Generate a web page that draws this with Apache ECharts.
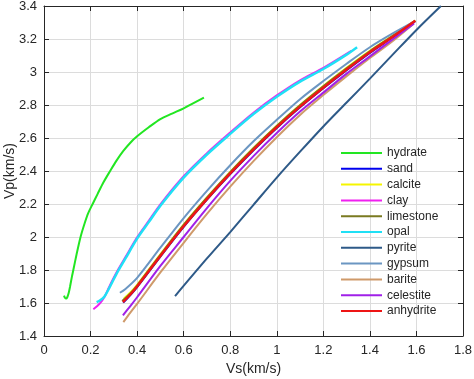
<!DOCTYPE html>
<html>
<head>
<meta charset="utf-8">
<script src="https://cdn.jsdelivr.net/npm/echarts@6/dist/echarts.min.js"></script>
<style>
html,body{margin:0;padding:0;background:#fff;}
#chart{width:474px;height:379px;}
</style>
</head>
<body>
<div id="chart"></div>
<script>
// ---- data (Vs km/s, Vp km/s) ----
var xTicks = [0, 0.2, 0.4, 0.6, 0.8, 1, 1.2, 1.4, 1.6, 1.8];
var yTicks = [1.4, 1.6, 1.8, 2, 2.2, 2.4, 2.6, 2.8, 3, 3.2, 3.4];
var names = ['hydrate','sand','calcite','clay','limestone','opal','pyrite','gypsum','barite','celestite','anhydrite'];

var hydrate = [[0.086,1.645],[0.09,1.632],[0.095,1.627],[0.1,1.635],[0.106,1.66],[0.112,1.70],[0.12,1.76],[0.126,1.80],[0.14,1.895],[0.157,2.0],[0.175,2.085],[0.19,2.145],[0.209,2.2],[0.23,2.26],[0.255,2.33],[0.284,2.4],[0.31,2.46],[0.34,2.52],[0.37,2.57],[0.4,2.61],[0.45,2.665],[0.5,2.715],[0.55,2.748],[0.6,2.78],[0.687,2.844]];
var anhydrite = [[0.339,1.606],[0.37,1.65],[0.4,1.70],[0.5,1.885],[0.6,2.065],[0.7,2.23],[0.8,2.385],[0.9,2.53],[1.0,2.665],[1.1,2.79],[1.2,2.905],[1.3,3.015],[1.4,3.12],[1.5,3.215],[1.595,3.31]];
var sand = [[0.34,1.602],[0.37,1.646],[0.4,1.696],[0.5,1.881],[0.6,2.061],[0.7,2.226],[0.8,2.381],[0.9,2.526],[1.0,2.661],[1.1,2.786],[1.2,2.901],[1.3,3.011],[1.4,3.116],[1.5,3.212],[1.595,3.308]];
var calcite = [[0.342,1.625],[0.37,1.662],[0.4,1.71],[0.5,1.895],[0.6,2.075],[0.7,2.24],[0.8,2.395],[0.9,2.54],[1.0,2.675],[1.1,2.8],[1.2,2.915],[1.3,3.025],[1.4,3.128],[1.5,3.222],[1.595,3.312]];
var limestone = [[0.336,1.612],[0.37,1.657],[0.4,1.706],[0.5,1.892],[0.6,2.073],[0.7,2.238],[0.8,2.393],[0.9,2.538],[1.0,2.673],[1.1,2.798],[1.2,2.913],[1.3,3.022],[1.4,3.126],[1.5,3.22],[1.595,3.311]];
var clay = [[0.212,1.562],[0.225,1.577],[0.24,1.597],[0.26,1.638],[0.28,1.698],[0.312,1.786],[0.35,1.878],[0.4,1.998],[0.45,2.098],[0.5,2.198],[0.6,2.368],[0.7,2.508],[0.8,2.633],[0.9,2.753],[1.0,2.858],[1.1,2.95],[1.2,3.025],[1.32,3.128]];
var opal = [[0.226,1.605],[0.24,1.615],[0.26,1.64],[0.28,1.69],[0.312,1.778],[0.35,1.87],[0.4,1.99],[0.45,2.09],[0.5,2.19],[0.6,2.36],[0.7,2.5],[0.8,2.625],[0.9,2.745],[1.0,2.85],[1.1,2.942],[1.2,3.018],[1.3,3.105],[1.345,3.15]];
var pyrite = [[0.563,1.642],[0.7,1.87],[0.8,2.03],[0.9,2.195],[1.0,2.36],[1.1,2.517],[1.2,2.67],[1.3,2.815],[1.4,2.96],[1.5,3.108],[1.6,3.255],[1.705,3.40]];
var gypsum = [[0.326,1.662],[0.35,1.685],[0.4,1.752],[0.5,1.935],[0.6,2.115],[0.7,2.28],[0.8,2.435],[0.9,2.58],[1.0,2.71],[1.1,2.835],[1.2,2.945],[1.3,3.05],[1.4,3.15],[1.5,3.235],[1.59,3.305]];
var barite = [[0.341,1.484],[0.37,1.54],[0.4,1.595],[0.5,1.785],[0.6,1.965],[0.7,2.14],[0.8,2.305],[0.9,2.46],[1.0,2.605],[1.1,2.74],[1.2,2.86],[1.3,2.975],[1.4,3.085],[1.5,3.19],[1.585,3.29]];
var celestite = [[0.339,1.525],[0.37,1.58],[0.4,1.635],[0.5,1.825],[0.6,2.0],[0.7,2.175],[0.8,2.34],[0.9,2.49],[1.0,2.63],[1.1,2.76],[1.2,2.875],[1.3,2.99],[1.4,3.095],[1.5,3.2],[1.59,3.295]];

var seriesData = [hydrate, sand, calcite, clay, limestone, opal, pyrite, gypsum, barite, celestite, anhydrite];
var colors = ['#22e622','#0000ee','#f5f500','#f020f0','#7a7a20','#20e0f5','#2e5a88','#6b96c2','#cf9a6a','#a020e8','#ee1515'];
var widths = [2, 2, 2, 2, 2, 2.5, 2, 2, 2, 2, 2.5];

var font = 'Liberation Sans, Arial, Helvetica, sans-serif';
var axisCol = '#262626';

var chart = echarts.init(document.getElementById('chart'), null, {renderer: 'canvas'});

var series = names.map(function (n, i) {
  return {
    name: n, type: 'line', data: seriesData[i], showSymbol: false, symbol: 'none',
    smooth: 0.3, clip: true, xAxisIndex: 0, yAxisIndex: 0,
    lineStyle: {color: colors[i], width: widths[i]}, itemStyle: {color: colors[i]},
    emphasis: {disabled: true}, animation: false
  };
});

function xAx(pos, main) {
  return {
    type: 'value', position: pos, min: xTicks[0], max: xTicks[xTicks.length - 1], interval: 0.2,
    axisLine: {show: true, onZero: false, lineStyle: {color: axisCol, width: 1}},
    axisTick: {show: true, inside: true, length: 5, lineStyle: {color: axisCol}},
    axisLabel: {show: main, color: axisCol, fontSize: 13, fontFamily: font, margin: 8, hideOverlap: false},
    splitLine: {show: main, lineStyle: {color: '#dcdcdc', width: 1}},
    name: main ? 'Vs(km/s)' : '', nameLocation: 'middle', nameGap: 26, nameMoveOverlap: false,
    nameTextStyle: {color: axisCol, fontSize: 14, fontFamily: font}
  };
}
function yAx(pos, main) {
  return {
    type: 'value', position: pos, min: yTicks[0], max: yTicks[yTicks.length - 1], interval: 0.2,
    axisLine: {show: true, onZero: false, lineStyle: {color: axisCol, width: 1}},
    axisTick: {show: true, inside: true, length: 5, lineStyle: {color: axisCol}},
    axisLabel: {show: main, color: axisCol, fontSize: 13, fontFamily: font, margin: 7},
    splitLine: {show: main, lineStyle: {color: '#dcdcdc', width: 1}},
    name: main ? 'Vp(km/s)' : '', nameLocation: 'middle', nameGap: 27, nameRotate: 90, nameMoveOverlap: false,
    nameTextStyle: {color: axisCol, fontSize: 14, fontFamily: font}
  };
}

chart.setOption({
  animation: false,
  backgroundColor: '#ffffff',
  grid: {left: 44, right: 11, top: 6, bottom: 43, containLabel: false, outerBoundsMode: 'none'},
  xAxis: [xAx('bottom', true), xAx('top', false)],
  yAxis: [yAx('left', true), yAx('right', false)],
  legend: {
    show: true, orient: 'vertical', left: 341, top: 147,
    itemWidth: 41, itemHeight: 12, itemGap: 3.8,
    icon: 'path://M0,0 L41,0 L41,2 L0,2 Z',
    data: names.map(function (n, i) { return {name: n, itemStyle: {color: colors[i]}}; }),
    textStyle: {color: axisCol, fontSize: 12, fontFamily: font, padding: [0, 0, 0, 0]},
    padding: 0, selectedMode: false
  },
  series: series
});
</script>
</body>
</html>
